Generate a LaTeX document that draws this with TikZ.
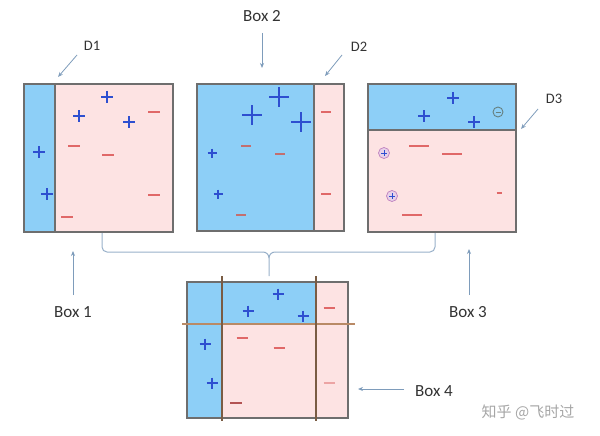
\documentclass[tikz,border=0pt]{standalone}
\usepackage{fontspec}
\setmainfont{Carlito}
\newfontfamily\cjk{Noto Sans CJK SC}
\usetikzlibrary{arrows.meta}
\definecolor{bluefill}{HTML}{8DCFF7}
\definecolor{pinkfill}{HTML}{FDE3E3}
\definecolor{edgec}{HTML}{6E6E6E}
\definecolor{plusc}{HTML}{2E4FD0}
\definecolor{minusc}{HTML}{E06868}
\definecolor{arrc}{HTML}{7E9CBB}
\definecolor{cutv}{HTML}{7A5C44}
\definecolor{cuth}{HTML}{B98A66}
\definecolor{labc}{HTML}{333333}
\tikzset{
  boxedge/.style={draw=edgec, line width=1.6pt},
  signp/.style={draw=plusc, line width=1.4pt},
  signm/.style={draw=minusc, line width=1.6pt},
  pointer/.style={draw=arrc, line width=0.8pt, -{Stealth[length=5pt,width=4pt]}},
  bracec/.style={draw=arrc!80, line width=1pt, rounded corners=5pt},
  lab/.style={text=labc, font=\fontsize{17}{17}\selectfont, inner sep=0pt},
  dlab/.style={text=labc, font=\fontsize{14.5}{15}\selectfont, inner sep=0pt},
  cutvs/.style={draw=cutv, line width=1.5pt},
  cuths/.style={draw=cuth, line width=1.5pt},
}
\newcommand\pl[3]{\draw[signp] (#1,#2) ++(-#3,0) -- ++(2*#3,0) (#1,#2) ++(0,-#3) -- ++(0,2*#3);}
\newcommand\mi[3]{\draw[signm] (#1,#2) ++(-#3,0) -- ++(2*#3,0);}
\begin{document}
\begin{tikzpicture}[x=1pt,y=-1pt]
\useasboundingbox (0,0) rectangle (600,436);

% ---------- Box 1 ----------
\fill[pinkfill] (24,84) rectangle (173,232);
\fill[bluefill] (24,84) rectangle (55,232);
\draw[boxedge] (55,84) -- (55,232);
\draw[boxedge] (24,84) rectangle (173,232);
\coordinate (b1bot) at (73,251);
\coordinate (d1tip) at (58,77);
\pl{107}{97}{6} \pl{79}{116}{6} \pl{129}{122}{6} \pl{39}{152}{6} \pl{47}{194}{6}
\mi{154}{112}{6} \mi{74}{146}{6} \mi{108}{155}{6} \mi{154}{195}{6} \mi{67}{217}{6}

% ---------- Box 2 ----------
\fill[bluefill] (197,84) rectangle (344,231);
\fill[pinkfill] (314,84) rectangle (344,231);
\draw[boxedge] (314,84) -- (314,231);
\draw[boxedge] (197,84) rectangle (344,231);
\coordinate (b2top) at (262,68);
\coordinate (d2tip) at (325,76);
\pl{279}{97}{10} \pl{252}{115}{10} \pl{301}{122}{10} \pl{212}{153}{4.5} \pl{218}{194}{4.5}
\draw[signm, draw=minusc!70!gray] (241,146) -- (251,146);
\draw[signm, draw=minusc!70!gray] (275,154) -- (285,154);
\draw[signm, draw=minusc!70!gray] (236,215) -- (246,215);
\mi{326}{112}{5} \mi{326}{194}{5}

% ---------- Box 3 ----------
\fill[pinkfill] (368,84) rectangle (516,232);
\fill[bluefill] (368,84) rectangle (516,130);
\draw[boxedge] (368,130) -- (516,130);
\draw[boxedge] (368,84) rectangle (516,232);
\coordinate (b3bot) at (469,249);
\coordinate (d3tip) at (521,129);
\pl{453}{98}{6} \pl{424}{116}{6} \pl{474}{122}{6}
\draw[draw=gray!80!teal, line width=0.9pt] (498,112) circle (5);
\draw[draw=gray!80!teal, line width=0.9pt] (495.5,112) -- (500.5,112);
\fill[violet!18] (384,153) circle (5.5);
\draw[draw=violet!50, line width=0.7pt] (384,153) circle (5.5);
\draw[draw=plusc, line width=0.9pt] (381,153) -- (387,153) (384,150) -- (384,156);
\fill[violet!18] (392,196) circle (5.5);
\draw[draw=violet!50, line width=0.7pt] (392,196) circle (5.5);
\draw[draw=plusc, line width=0.9pt] (389,196) -- (395,196) (392,193) -- (392,199);
\mi{419}{146}{10} \mi{452}{154}{10} \mi{499}{193}{2.5} \mi{412}{215}{10}

% ---------- Box 4 ----------
\fill[pinkfill] (187,282) rectangle (348,418);
\fill[bluefill] (187,282) rectangle (222,418);
\fill[bluefill] (222,282) rectangle (316,324);
\draw[boxedge] (187,282) rectangle (348,418);
\draw[cuths] (182,324) -- (355,324);
\draw[cutvs] (222,276) -- (222,421);
\draw[cutvs] (316,276) -- (316,421);
\coordinate (b4right) at (358,389);
\coordinate (b4top) at (269,276);
\pl{278}{294}{5.5} \pl{248}{311}{5.5} \pl{303}{316}{5.5} \pl{205}{344}{5.5} \pl{212}{383}{5.5}
\mi{329}{308}{5.5} \mi{242}{338}{5.5} \mi{279}{348}{5.5}
\draw[signm, draw=minusc!60!white] (323.5,383) -- (334.5,383);
\draw[signm, draw=minusc!80!black, line width=2pt] (230,403) -- (242,403);

% ---------- brace ----------
\draw[bracec] (102,233) -- (102,252) -- (263,252);
\draw[bracec] (435,233) -- (435,252) -- (275,252);
\draw[draw=arrc!80, line width=1pt] (263,252) to[out=0,in=90] (269,258) -- (b4top);
\draw[draw=arrc!80, line width=1pt] (275,252) to[out=180,in=90] (269,258);

% ---------- labels and pointers ----------
\node[lab] (l1) at (73,312) {Box 1};
\node[lab] (l2) at (262,16) {Box 2};
\node[lab] (l3) at (468,312) {Box 3};
\node[lab] (l4) at (434,391) {Box 4};
\node[dlab] (d1) at (92,46) {D1};
\node[dlab] (d2) at (359,47) {D2};
\node[dlab] (d3) at (554,99) {D3};
\node[text=gray!70, font=\cjk\fontsize{15}{15}\selectfont, inner sep=0pt] (wm) at (528,412) {知乎 @飞时过};

\draw[pointer] (73,295) -- (b1bot);
\draw[pointer] (469,295) -- (b3bot);
\draw[pointer] (262,33) -- (b2top);
\draw[pointer] (404,389) -- (b4right);
\draw[pointer] (77,55) -- (d1tip);
\draw[pointer] (342,55) -- (d2tip);
\draw[pointer] (538,109) -- (d3tip);
\end{tikzpicture}
\end{document}
